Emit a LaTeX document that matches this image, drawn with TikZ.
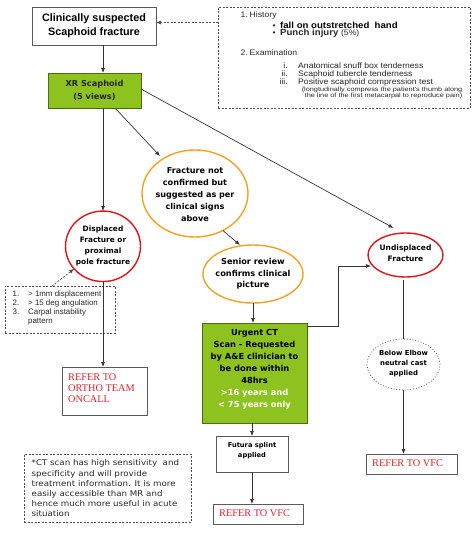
\documentclass[tikz,border=0pt]{standalone}
\usepackage{fontspec}
\setmainfont{Liberation Sans}
\newfontfamily\dv{DejaVu Sans}
\newfontfamily\dvw{DejaVu Sans}[FakeStretch=1.1]
\newfontfamily\wide{Liberation Sans}[FakeStretch=1.08]
\newfontfamily\wider{Liberation Sans}[FakeStretch=1.2]
\newfontfamily\redser{Liberation Serif}
\usetikzlibrary{arrows.meta,shapes.geometric}
\definecolor{myred}{HTML}{E2131B}
\definecolor{myorange}{HTML}{F4A21E}
\definecolor{boxgreen}{HTML}{8DC21F}
\definecolor{reftxt}{HTML}{E8202A}
\tikzset{
  ln/.style={draw=black!80, line width=0.7pt},
  arr/.style={ln, -{Latex[length=5pt,width=4pt]}},
  dasharr/.style={draw=black!70, line width=0.7pt, dash pattern=on 2pt off 1.5pt, -{Latex[length=5pt,width=4pt]}},
  wbox/.style={draw=black!65, line width=0.8pt, fill=white, inner sep=0, outer sep=0},
  gbox/.style={draw=boxgreen!55!black, line width=0.8pt, fill=boxgreen, inner sep=0, outer sep=0},
  dbox/.style={draw=black!70, line width=0.7pt, dash pattern=on 2pt off 1.5pt, inner sep=0, outer sep=0},
  redell/.style={ellipse, draw=myred, line width=1.4pt, inner sep=0, outer sep=0},
  orell/.style={ellipse, draw=myorange, line width=1.4pt, inner sep=0, outer sep=0},
  dotell/.style={ellipse, draw=black!70, line width=0.8pt, dotted, inner sep=0, outer sep=0},
  lbl/.style={inner sep=0, align=center, text=black},
  ht/.style={inner sep=0, text=black!85, font=\wide\fontsize{8}{9}\selectfont},
  htb/.style={inner sep=0, text=black, font=\wide\bfseries\fontsize{8.9}{9}\selectfont},
  hts/.style={inner sep=0, text=black!85, font=\wider\fontsize{6.1}{6}\selectfont},
  ct/.style={inner sep=0, text=black!85, font=\fontsize{7.9}{9}\selectfont},
  reflbl/.style={inner sep=0, align=left, text=reftxt, font=\redser\fontsize{10.3}{11.2}\selectfont},
}
\begin{document}
\begin{tikzpicture}[x=1pt,y=-1pt]
\useasboundingbox (0,0) rectangle (474,536);

% top boxes
\node[wbox, minimum width=124pt, minimum height=38pt, align=center,
      font=\bfseries\fontsize{10.8}{14}\selectfont] (clin) at (94,26)
      {Clinically suspected\\Scaphoid fracture};
\node[dbox, minimum width=252pt, minimum height=101pt] (hist) at (344,57.5) {};

% history text
\node[ht, anchor=base west] (h1n) at (240.5,17.8) {1.};
\node[ht, anchor=base west] (h1) at (249.5,17.8) {History};
\node[ht, anchor=base west] (b1) at (272.5,28) {•};
\node[htb, anchor=base west] (h1a) at (280,28) {fall on outstretched\ \ hand};
\node[ht, anchor=base west] (b2) at (272.5,35.7) {•};
\node[ht, anchor=base west] (h1b) at (280,35.7) {\wide\bfseries\fontsize{8.9}{9}\selectfont Punch injury \mdseries\fontsize{8}{9}\selectfont(5\%)};
\node[ht, anchor=base west] (h2n) at (240.5,55.5) {2.};
\node[ht, anchor=base west] (h2) at (249.5,55.5) {Examination};
\node[ht, anchor=base east] (r1) at (288,68.8) {i.};
\node[ht, anchor=base west] (e1) at (298,68.8) {Anatomical snuff box tenderness};
\node[ht, anchor=base east] (r2) at (288,76.8) {ii.};
\node[ht, anchor=base west] (e2) at (298,76.8) {Scaphoid tubercle tenderness};
\node[ht, anchor=base east] (r3) at (288,84.8) {iii.};
\node[ht, anchor=base west] (e3) at (298,84.8) {Positive scaphoid compression test};
\node[hts, anchor=base] (s1) at (382,91) {(longtudinally compress the patient's thumb along};
\node[hts, anchor=base] (s2) at (383.5,97) {the line of the first metacarpal to reproduce pain)};

% XR
\node[gbox, minimum width=93pt, minimum height=35pt, align=center, text=black!85,
      font=\dv\bfseries\fontsize{8.2}{12.5}\selectfont] (xr) at (94.5,90.5)
      {XR Scaphoid\\(5 views)};

% displaced
\node[redell, minimum width=75pt, minimum height=70.5pt] (disp) at (103,246.3) {};
\node[lbl, font=\dv\bfseries\fontsize{7.4}{11}\selectfont] (dispt) at (103,246) {Displaced\\Fracture or\\proximal\\pole fracture};

% fracture not confirmed
\node[orell, minimum width=106pt, minimum height=87pt] (frac) at (195,193.5) {};
\node[lbl, font=\dv\bfseries\fontsize{8.1}{12}\selectfont] (fract) at (195,194.5) {Fracture not\\confirmed but\\suggested as per\\clinical signs\\above};

% senior
\node[orell, minimum width=100pt, minimum height=58pt] (sen) at (253,274) {};
\node[lbl, font=\dv\bfseries\fontsize{8.2}{11.7}\selectfont] (sent) at (253,274) {Senior review\\confirms clinical\\picture};

% undisplaced
\node[redell, minimum width=75pt, minimum height=44pt] (undisp) at (405.5,255) {};
\node[lbl, font=\dv\bfseries\fontsize{7.5}{11}\selectfont] (undispt) at (405.5,253) {Undisplaced\\Fracture};

% CT box
\node[gbox, minimum width=105pt, minimum height=100pt] (ctb) at (254.5,373) {};
\node[lbl, font=\dv\bfseries\fontsize{8.3}{12}\selectfont] (ctt) at (254.5,369.5)
  {Urgent CT\\Scan - Requested\\by A\&E clinician to\\be done within\\48hrs\\\textcolor{white}{>16 years and}\\\textcolor{white}{< 75 years only}};

% below elbow
\node[dotell, minimum width=73pt, minimum height=51pt] (below) at (403.5,364.5) {};
\node[lbl, font=\dv\bfseries\fontsize{6.9}{9.6}\selectfont] (belowt) at (403.5,363.5) {Below Elbow\\neutral cast\\applied};

% futura
\node[wbox, minimum width=72pt, minimum height=36pt] (fut) at (252,454) {};
\node[lbl, font=\dv\bfseries\fontsize{6.7}{10}\selectfont] (futt) at (252,450.5) {Futura splint\\applied};

% refer boxes
\node[wbox, minimum width=90pt, minimum height=20pt] (vfcL) at (258,514) {};
\node[reflbl, anchor=west] (vfcLt) at (219,513.5) {REFER TO VFC};
\node[wbox, minimum width=91pt, minimum height=20pt] (vfcR) at (411.5,464) {};
\node[reflbl, anchor=west] (vfcRt) at (372,463.5) {REFER TO VFC};
\node[wbox, minimum width=85pt, minimum height=48pt] (ortho) at (104.5,391) {};
\node[reflbl, anchor=west] (orthot) at (68,388) {REFER TO\\ORTHO TEAM\\ONCALL};

% criteria box
\node[dbox, minimum width=110pt, minimum height=47pt] (crit) at (60,309.5) {};
\node[ct, anchor=base west] (c1n) at (12.5,296) {1.};
\node[ct, anchor=base west] (c1) at (28,296) {> 1mm displacement};
\node[ct, anchor=base west] (c2n) at (12.5,305.5) {2.};
\node[ct, anchor=base west] (c2) at (28,305.5) {> 15 deg angulation};
\node[ct, anchor=base west] (c3n) at (12.5,314.5) {3.};
\node[ct, anchor=base west] (c3) at (28,314.5) {Carpal instability};
\node[ct, anchor=base west] (c4) at (28,323.5) {pattern};

% note box
\node[dbox, minimum width=167pt, minimum height=68pt] (note) at (107.5,488) {};
\node[inner sep=0, anchor=west, align=left, text=black!85,
      font=\dvw\fontsize{7.9}{10.2}\selectfont] (notet) at (31.5,488.5)
  {*CT scan has high sensitivity\ \ and\\specificity and will provide\\treatment information. It is more\\easily accessible than MR and\\hence much more useful in acute\\situation};

% connectors
\coordinate (d1) at ([yshift=3.5pt]clin.east);
\draw[dasharr] (hist.west |- d1) -- (d1);
\draw[arr] (disp.north |- clin.south) -- (disp.north |- xr.north);
\draw[arr] (disp.north |- xr.south) -- (disp.north);
\draw[arr, shorten >=4pt] ([xshift=20.5pt]xr.south) -- (frac);
\draw[arr] ([yshift=1.5pt]xr.east) -- ([xshift=-12pt,yshift=5pt]undisp.north);
\draw[arr] (frac.307) -- ([xshift=-13pt]sen.north);
\draw[arr] (sen.south) -- (sen.south |- ctb.north);
\draw[arr] ([yshift=-3pt]ctb.north east) -- ++(31,0) |- ([shift={(3pt,-11pt)}]undisp.west);
\draw[ln] ([yshift=-3pt]below.north |- undisp.south) -- (below.north);
\draw[arr] (below.south) -- (below.south |- vfcR.north);
\draw[arr] (fut.north |- ctb.south) -- (fut.north);
\draw[arr] (fut.south) -- (fut.south |- vfcL.north);
\draw[arr] (disp.south) -- (disp.south |- ortho.north);
\draw[dasharr] ([xshift=-8pt]crit.north) -- (disp.218);
\end{tikzpicture}
\end{document}
